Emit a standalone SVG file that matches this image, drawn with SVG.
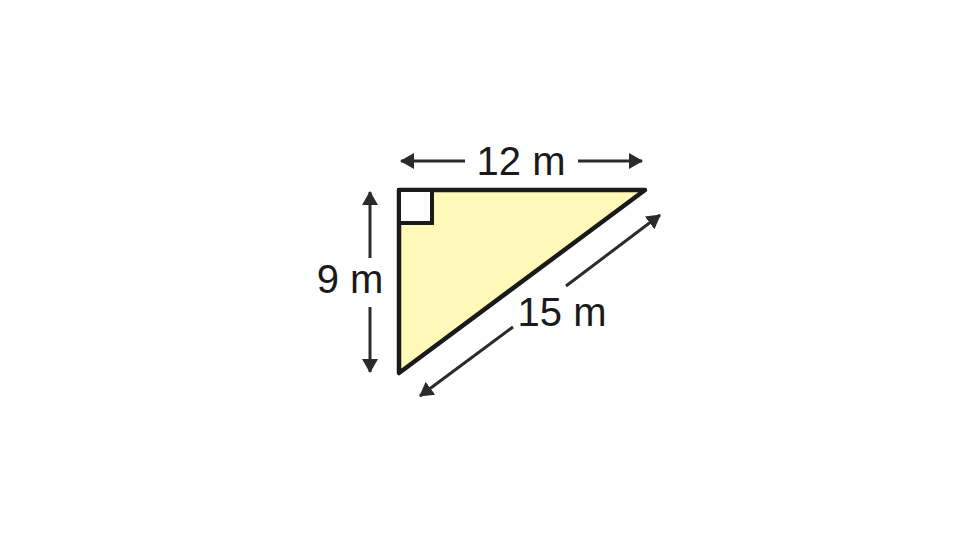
<svg xmlns="http://www.w3.org/2000/svg" width="976" height="549" viewBox="0 0 976 549">
<style>
.dim{stroke:#2b2b2b;stroke-width:3;fill:none}
.lbl{font-family:"Liberation Sans",Arial,sans-serif;font-size:40px;fill:#1a1a1a;text-anchor:middle}
</style>
<defs>
<marker id="ah" markerUnits="userSpaceOnUse" markerWidth="16" markerHeight="18" refX="13" refY="8" orient="auto-start-reverse" viewBox="0 0 16 16">
<path d="M0,0 L14,8 L0,16 Z" fill="#2b2b2b"/>
</marker>
</defs>
<rect width="976" height="549" fill="#ffffff"/>
<g id="triangle">
<polygon points="399,190 645,190 399,373" fill="#fff9b9" stroke="#1a1a1a" stroke-width="4.5" stroke-linejoin="round"/>
<rect x="399" y="190" width="33" height="33" fill="#ffffff" stroke="#1a1a1a" stroke-width="4"/>
</g>
<g id="connectors">
<line class="dim" x1="401" y1="161" x2="465" y2="161" marker-start="url(#ah)"/>
<line class="dim" x1="578" y1="161" x2="642" y2="161" marker-end="url(#ah)"/>
<line class="dim" x1="370" y1="192" x2="370" y2="258" marker-start="url(#ah)"/>
<line class="dim" x1="370" y1="307" x2="370" y2="372" marker-end="url(#ah)"/>
<line class="dim" x1="420" y1="396" x2="513" y2="327" marker-start="url(#ah)"/>
<line class="dim" x1="566" y1="286" x2="660" y2="215" marker-end="url(#ah)"/>
</g>
<g id="label-12"><text class="lbl" x="521" y="175">12 m</text></g>
<g id="label-9"><text class="lbl" x="350" y="293">9 m</text></g>
<g id="label-15"><text class="lbl" x="562" y="326">15 m</text></g>
</svg>
